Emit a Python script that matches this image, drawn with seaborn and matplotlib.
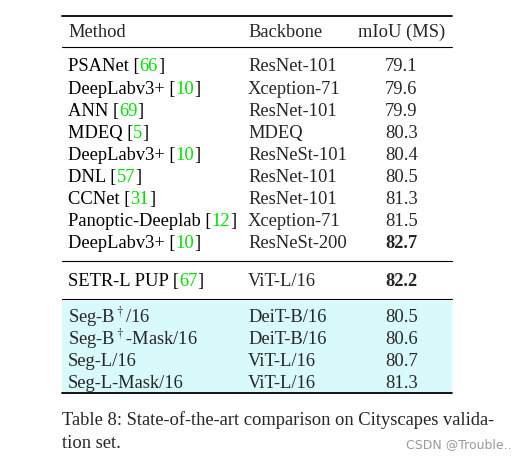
import matplotlib
matplotlib.use("Agg")
import matplotlib.pyplot as plt
import seaborn as sns

sns.set_style("white")
plt.rcParams['font.family'] = ['Liberation Serif', 'DejaVu Serif']
plt.rcParams['mathtext.fontset'] = 'stix'

# table data
methods = ["PSANet", "DeepLabv3+", "ANN", "MDEQ", "DeepLabv3+", "DNL", "CCNet",
           "Panoptic-Deeplab", "DeepLabv3+", "SETR-L PUP",
           r"Seg-B$^\dagger$/16", r"Seg-B$^\dagger$-Mask/16", "Seg-L/16", "Seg-L-Mask/16"]
cites = ["66", "10", "69", "5", "10", "57", "31", "12", "10", "67", None, None, None, None]
backbones = ["ResNet-101", "Xception-71", "ResNet-101", "MDEQ", "ResNeSt-101", "ResNet-101",
             "ResNet-101", "Xception-71", "ResNeSt-200", "ViT-L/16",
             "DeiT-B/16", "DeiT-B/16", "ViT-L/16", "ViT-L/16"]
miou = ["79.1", "79.6", "79.9", "80.3", "80.4", "80.5", "81.3", "81.5", "82.7", "82.2",
        "80.5", "80.6", "80.7", "81.3"]
bold = [False] * 8 + [True, True] + [False] * 4

fig = plt.figure(figsize=(5.22, 4.6), dpi=100)
ax = fig.add_axes([0, 0, 1, 1])
ax.set_xlim(0, 522)
ax.set_ylim(460, 0)
ax.axis("off")
fig.canvas.draw()
renderer = fig.canvas.get_renderer()

fs = 13.3
green = "#00e000"
VA = "baseline"
OFF = 5  # baseline offset from row centre


def seg_text(x, y, parts):
    # draw consecutive coloured pieces on one line
    for txt, col in parts:
        t = ax.text(x, y, txt, fontsize=fs, color=col, va=VA, ha="left")
        bb = t.get_window_extent(renderer)
        x += bb.width


ys = [66, 89, 111, 133, 155, 177, 199, 221, 243, 281, 317, 339, 361, 383]

ax.add_patch(plt.Rectangle((62, 302), 390, 91, color="#d8fafa", lw=0))
for y, lw in [(17, 1.3), (48, 0.8), (262, 0.8), (300, 0.8), (394, 1.3)]:
    ax.plot([62, 452], [y, y], color="black", lw=lw)

ax.text(68, 32 + OFF, "Method", fontsize=fs, va=VA)
ax.text(248, 32 + OFF, "Backbone", fontsize=fs, va=VA)
ax.text(358, 32 + OFF, "mIoU (MS)", fontsize=fs, va=VA)

for y, m, c, b, v, bo in zip(ys, methods, cites, backbones, miou, bold):
    y = y + OFF
    if c is None:
        ax.text(68, y, m, fontsize=fs, va=VA)
    else:
        seg_text(68, y, [(m + " [", "black"), (c, green), ("]", "black")])
    ax.text(248, y, b, fontsize=fs, va=VA)
    ax.text(385, y, v, fontsize=fs, va=VA, fontweight="bold" if bo else "normal")

ax.text(62, 420 + OFF, "Table 8: State-of-the-art comparison on Cityscapes valida-",
        fontsize=fs, va=VA)
ax.text(62, 443 + OFF, "tion set.", fontsize=fs, va=VA)
ax.text(512, 443 + OFF, "CSDN @Trouble..", fontsize=9, va=VA, ha="right",
        color="#999999", family="DejaVu Sans")

fig.savefig("out.png", dpi=100)
